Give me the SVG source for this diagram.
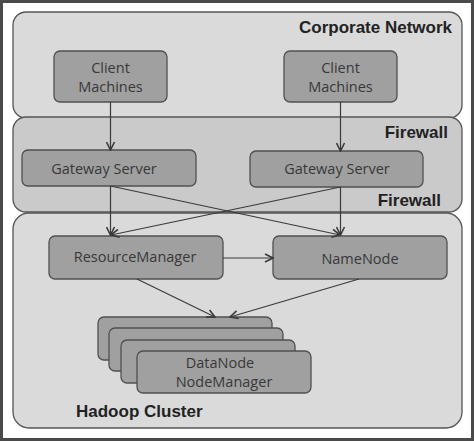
<svg xmlns="http://www.w3.org/2000/svg" width="474" height="441" viewBox="0 0 474 441">
<defs>
<marker id="arr" viewBox="0 0 10 10" refX="9" refY="5" markerWidth="10" markerHeight="10" markerUnits="userSpaceOnUse" orient="auto">
<polyline points="1,1 9,5 1,9" fill="none" stroke="#3a3a3a" stroke-width="1.6"/>
</marker>
</defs>
<style>
.panel{stroke:#555;stroke-width:1.3}
.node{fill:#a0a0a0;stroke:#505050;stroke-width:1.3}
.t{font-family:"Open Sans","Liberation Sans",sans-serif;font-size:14.5px;fill:#383838;text-anchor:middle}
.h{font-family:"Liberation Sans",Arial,sans-serif;font-size:17px;font-weight:bold;fill:#222}
.c{stroke:#3a3a3a;stroke-width:1.2;fill:none;marker-end:url(#arr)}
</style>
<rect x="0" y="0" width="474" height="441" fill="#fff"/>
<rect x="1.5" y="1.5" width="471" height="438" fill="none" stroke="#4a4a4a" stroke-width="3"/>
<g id="corporate">
<rect class="panel" x="13" y="12" width="449" height="106" rx="13" fill="#dadada"/>
<text class="h" x="452" y="33" text-anchor="end">Corporate Network</text>
</g>
<g id="firewall">
<rect class="panel" x="13" y="117" width="449" height="95" rx="13" fill="#cacaca"/>
<text class="h" x="448" y="138" text-anchor="end">Firewall</text>
<text class="h" x="441" y="206" text-anchor="end">Firewall</text>
</g>
<g id="hadoop">
<rect class="panel" x="13" y="213" width="449" height="215" rx="16" fill="#dadada"/>
<text class="h" x="76" y="417">Hadoop Cluster</text>
</g>
<g id="client1">
<rect class="node" x="54" y="51" width="113" height="51" rx="6"/>
<text class="t" x="110.5" y="73">Client</text>
<text class="t" x="110.5" y="92">Machines</text>
</g>
<g id="client2">
<rect class="node" x="284" y="51" width="113" height="51" rx="6"/>
<text class="t" x="340.5" y="73">Client</text>
<text class="t" x="340.5" y="92">Machines</text>
</g>
<g id="gateway1">
<rect class="node" x="22" y="150" width="174" height="36" rx="6"/>
<text class="t" x="104" y="174">Gateway Server</text>
</g>
<g id="gateway2">
<rect class="node" x="250" y="151" width="173" height="36" rx="6"/>
<text class="t" x="337" y="174">Gateway Server</text>
</g>
<g id="resourcemanager">
<rect class="node" x="49" y="236" width="174" height="43" rx="6"/>
<text class="t" x="135" y="262">ResourceManager</text>
</g>
<g id="namenode">
<rect class="node" x="273" y="236" width="174" height="43" rx="6"/>
<text class="t" x="360" y="264">NameNode</text>
</g>
<g id="datanodes">
<rect class="node" x="98" y="317" width="174" height="43" rx="6"/>
<rect class="node" x="109" y="328" width="174" height="43" rx="6"/>
<rect class="node" x="121" y="340" width="174" height="43" rx="6"/>
<rect class="node" x="137" y="351" width="174" height="42" rx="6"/>
<text class="t" x="220" y="368">DataNode</text>
<text class="t" x="224" y="387">NodeManager</text>
</g>
<g id="connectors">
<line class="c" x1="110.5" y1="102" x2="110.5" y2="150"/>
<line class="c" x1="340.5" y1="102" x2="340.5" y2="151"/>
<line class="c" x1="110.5" y1="186" x2="110.5" y2="235"/>
<line class="c" x1="110.5" y1="186" x2="340" y2="235"/>
<line class="c" x1="340.5" y1="187" x2="340.5" y2="235"/>
<line class="c" x1="340.5" y1="187" x2="111" y2="235"/>
<line class="c" x1="223" y1="258" x2="273" y2="258"/>
<line class="c" x1="137" y1="279" x2="215" y2="317"/>
<line class="c" x1="359" y1="279" x2="230" y2="317"/>
</g>
</svg>
